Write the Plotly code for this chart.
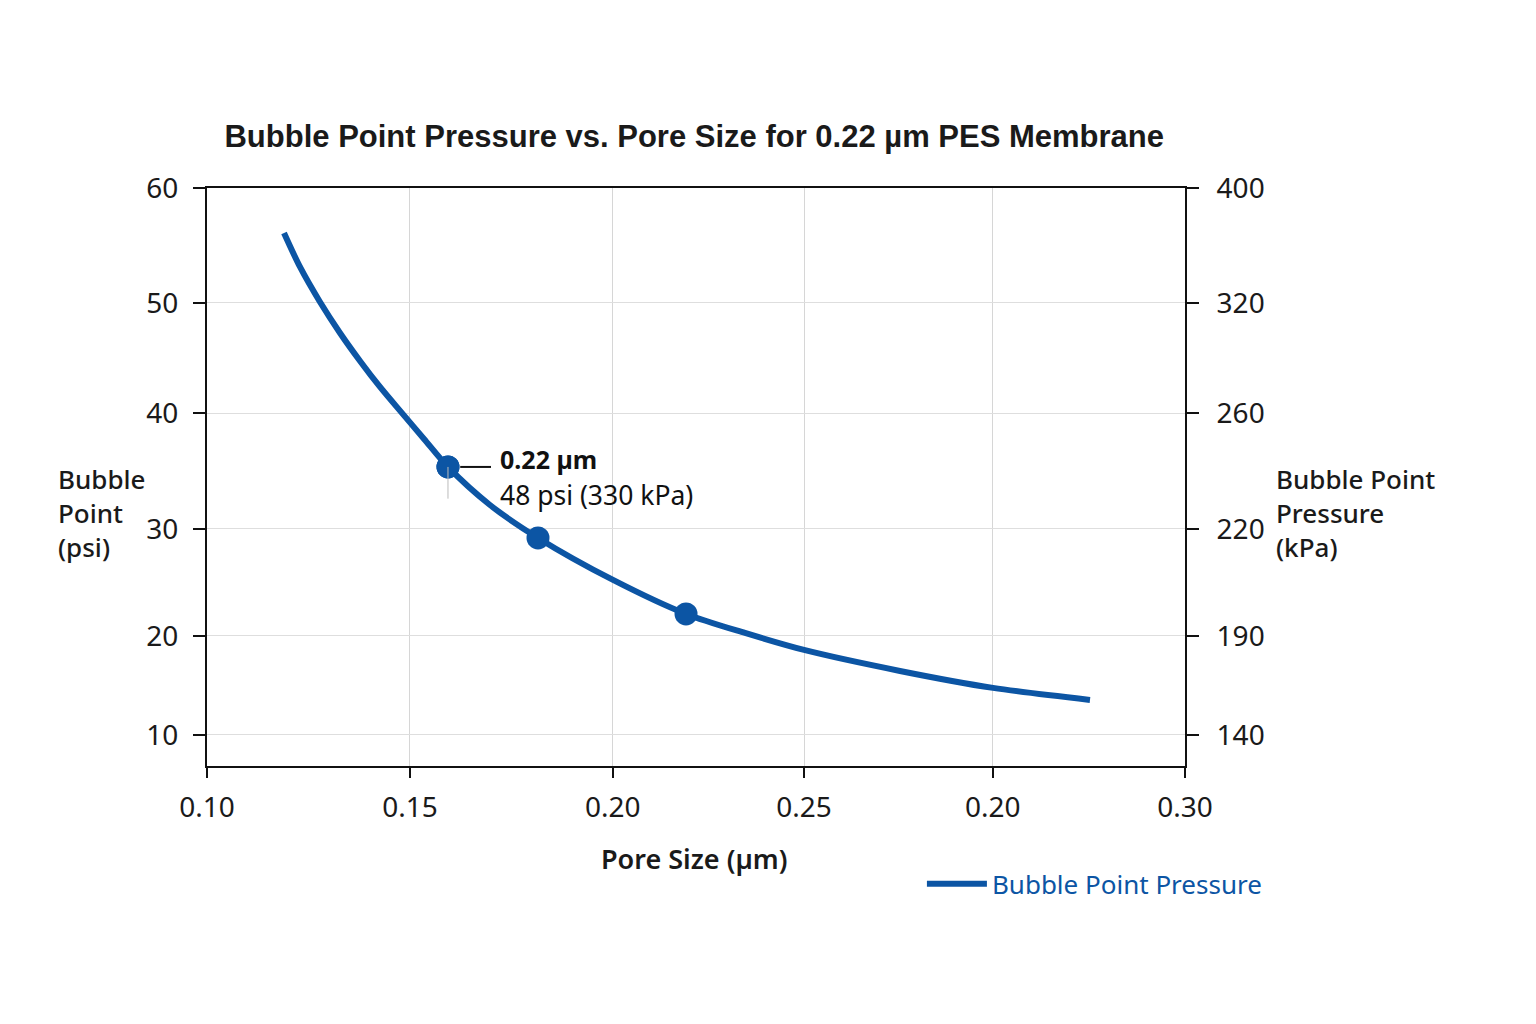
import plotly.graph_objects as go

# ---- data ----
pore_size = [0.11575, 0.11902, 0.12311, 0.12720, 0.13129, 0.13538, 0.13967,
             0.14438, 0.14928, 0.15787, 0.16769, 0.18303, 0.19796, 0.21002,
             0.22209, 0.24172, 0.26074, 0.28057]
bubble_point = [55.89, 52.78, 49.58, 46.75, 44.19, 41.81, 39.53,
                37.06, 34.50, 31.02, 28.01, 24.17, 21.06, 19.32,
                17.77, 15.85, 14.30, 13.20]
marker_x = [0.14928, 0.16769, 0.19796]
marker_y = [34.50, 28.01, 21.06]

x_tickvals = [0.10, 0.1415, 0.1830, 0.2221, 0.2607, 0.30]
x_ticktext = ["0.10", "0.15", "0.20", "0.25", "0.20", "0.30"]
y_tickvals = [60, 49.49, 39.43, 28.83, 19.05, 10]
y_ticktext_psi = ["60", "50", "40", "30", "20", "10"]
y_ticktext_kpa = ["400", "320", "260", "220", "190", "140"]

BLUE = "#0c55a4"
FONT = "Noto Sans"
TXT = "#1a1a1a"

fig = go.Figure()
fig.add_trace(go.Scatter(
    x=pore_size, y=bubble_point, mode="lines",
    line=dict(color=BLUE, width=6, shape="spline", smoothing=0.8),
    name="Bubble Point Pressure", showlegend=True, hoverinfo="skip"))
fig.add_trace(go.Scatter(
    x=marker_x, y=marker_y, mode="markers",
    marker=dict(color=BLUE, size=23), showlegend=False, hoverinfo="skip"))
fig.add_trace(go.Scatter(
    x=marker_x[:1], y=marker_y[:1], yaxis="y2", mode="markers",
    marker=dict(color=BLUE, size=23), showlegend=False, hoverinfo="skip"))

# leader lines at the 0.22 um point
mx, my = marker_x[0], marker_y[0]
fig.add_shape(type="line", x0=mx + 0.0025, x1=mx + 0.0088, y0=my, y1=my,
              line=dict(color="#111111", width=2))
fig.add_shape(type="line", x0=mx, x1=mx, y0=my, y1=my - 2.9,
              line=dict(color="#bbbbbb", width=1))
fig.add_annotation(x=mx + 0.0102, y=my + 0.7, xanchor="left", yanchor="middle",
                   text="<b>0.22 µm</b>", showarrow=False,
                   font=dict(family=FONT, size=25, color="#111111"))
fig.add_annotation(x=mx + 0.0102, y=my - 2.6, xanchor="left", yanchor="middle",
                   text="48 psi (330 kPa)", showarrow=False,
                   font=dict(family=FONT, size=26.5, color="#111111"))

# axis titles
fig.add_annotation(xref="paper", yref="paper", x=-0.154, y=0.437,
                   xanchor="left", yanchor="middle", align="left",
                   text="Bubble<br>Point<br>(psi)", showarrow=False,
                   font=dict(family=FONT, size=26, color=TXT, weight=500))
fig.add_annotation(xref="paper", yref="paper", x=1.0915, y=0.437,
                   xanchor="left", yanchor="middle", align="left",
                   text="Bubble Point<br>Pressure<br>(kPa)", showarrow=False,
                   font=dict(family=FONT, size=26, color=TXT, weight=500))
fig.add_annotation(xref="paper", yref="paper", x=0.498, y=-0.16,
                   xanchor="center", yanchor="middle",
                   text="Pore Size (µm)", showarrow=False,
                   font=dict(family=FONT, size=27, color=TXT, weight=600))

axis_common = dict(showline=True, linecolor="#111111", linewidth=2,
                   tickwidth=2, tickcolor="#111111", ticks="outside",
                   tickfont=dict(family=FONT, size=28, color=TXT),
                   zeroline=False)

fig.update_layout(
    width=1536, height=1024,
    margin=dict(l=207, r=351, t=188, b=258),
    paper_bgcolor="white", plot_bgcolor="white",
    title=dict(text="<b>Bubble Point Pressure vs. Pore Size for 0.22 µm PES Membrane</b>",
               x=0.452, xanchor="center", y=0.867, yanchor="middle",
               font=dict(family="Liberation Sans", size=31, color=TXT)),
    xaxis=dict(range=[0.10, 0.30], tickvals=x_tickvals, ticktext=x_ticktext,
               showgrid=True, gridcolor="#d6d6d6", gridwidth=1,
               mirror=True, ticklen=10, ticklabelstandoff=5, **axis_common),
    yaxis=dict(range=[7.16, 60], tickvals=y_tickvals, ticktext=y_ticktext_psi,
               showgrid=True, gridcolor="#dedede", gridwidth=1,
               ticklen=12, ticklabelstandoff=9, **axis_common),
    yaxis2=dict(range=[7.16, 60], tickvals=y_tickvals, ticktext=y_ticktext_kpa,
                overlaying="y", side="right", showgrid=False,
                ticklen=12, ticklabelstandoff=12, **axis_common),
    legend=dict(x=0.731, y=-0.204, xanchor="left", yanchor="middle",
                font=dict(family=FONT, size=26, color=BLUE),
                bgcolor="rgba(0,0,0,0)", itemwidth=60),
    showlegend=True,
)

fig.write_html("out.html")
